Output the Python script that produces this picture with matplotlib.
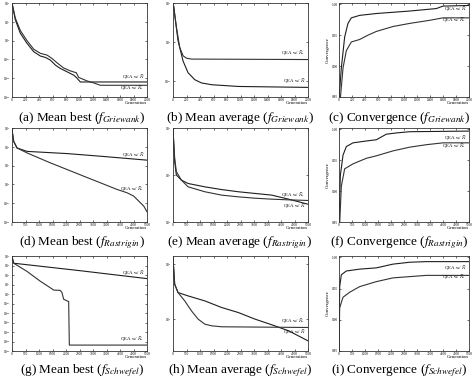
import numpy as np
import matplotlib
matplotlib.use("Agg")
import matplotlib.pyplot as plt
from matplotlib.ticker import LogLocator, FixedLocator, NullFormatter

plt.rcParams['mathtext.fontset'] = 'stix'
plt.rcParams['font.family'] = ['Liberation Serif', 'DejaVu Serif']

# ---- data (generation, value) ----
# (a) mean best, Griewank
a_gen_r = [0, 49, 123, 222, 321, 420, 494, 568, 642, 716, 815, 914, 953, 1012, 2000]
a_val_r = [100, 12.8, 2.47, 0.72, 0.258, 0.151, 0.128, 0.092, 0.050, 0.033, 0.022, 0.0145, 0.011, 0.0063, 0.0063]
a_gen_rs = [0, 49, 123, 222, 321, 420, 519, 593, 667, 765, 864, 953, 988, 1111, 1210, 1309, 2000]
a_val_rs = [100, 15.8, 3.46, 1.0, 0.35, 0.21, 0.17, 0.112, 0.066, 0.035, 0.0245, 0.0195, 0.011, 0.0072, 0.0056, 0.0042, 0.0042]

# (b) mean average, Griewank
b_gen_r = [10, 74, 149, 223, 323, 422, 571, 968, 2000]
b_val_r = [8.2, 1.1, 0.33, 0.166, 0.11, 0.091, 0.082, 0.074, 0.070]
b_gen_rs = [10, 50, 99, 149, 199, 273, 2000]
b_val_rs = [8.2, 2.45, 0.74, 0.45, 0.39, 0.37, 0.36]

# (c) convergence, Griewank
c_gen_r = [0, 36, 87, 138, 190, 318, 574, 1087, 1497, 1600, 2000]
c_val_r = [0.847, 0.897, 0.947, 0.969, 0.978, 0.982, 0.985, 0.989, 0.993, 0.997, 0.998]
c_gen_rs = [20, 62, 113, 190, 318, 446, 574, 831, 1087, 1395, 1600, 2000]
c_val_rs = [0.847, 0.897, 0.925, 0.939, 0.943, 0.950, 0.956, 0.964, 0.969, 0.974, 0.978, 0.978]

# (d) mean best, Rastrigin
d_gen_r = [0, 62, 185, 556, 2037, 3272, 5000]
d_val_r = [820, 195, 87, 57, 43.6, 31.6, 19.5]
d_gen_rs = [0, 62, 185, 556, 1420, 2037, 2654, 3272, 3889, 4259, 4506, 4753, 4877, 5000]
d_val_rs = [820, 195, 87, 47.3, 14.0, 6.2, 2.74, 1.22, 0.54, 0.36, 0.24, 0.106, 0.071, 0.035]

# (e) mean average, Rastrigin
e_gen_r = [0, 62, 124, 310, 558, 1179, 1799, 2419, 3040, 3660, 4280, 5000]
e_val_r = [92, 19.3, 10, 7.8, 6.6, 5.6, 4.9, 4.4, 4.05, 3.73, 3.06, 2.39]
e_gen_rs = [0, 62, 124, 310, 558, 1179, 1799, 2419, 3040, 3660, 4280, 5000]
e_val_rs = [92, 22.8, 11.8, 7.8, 5.6, 4.4, 3.73, 3.43, 3.21, 3.06, 2.96, 2.87]

# (f) convergence, Rastrigin
f_gen_r = [0, 51, 154, 282, 538, 1051, 1436, 1821, 2205, 2718, 5000]
f_val_r = [0.847, 0.925, 0.958, 0.972, 0.978, 0.981, 0.983, 0.992, 0.994, 0.996, 0.997]
f_gen_rs = [26, 90, 218, 538, 1051, 1436, 2077, 2718, 3359, 4000, 5000]
f_val_rs = [0.847, 0.908, 0.936, 0.944, 0.953, 0.957, 0.965, 0.971, 0.975, 0.978, 0.978]

# (g) mean best, Schwefel
g_gen_r = [0, 62, 2531, 5000]
g_val_r = [8500, 1740, 282, 41.7]
g_gen_rs = [0, 62, 556, 1049, 1420, 1543, 1790, 1852, 1914, 2037, 2099, 2123, 5000]
g_val_rs = [8500, 1740, 240, 21.9, 4.5, 2.6, 2.4, 1.38, 0.28, 0.19, 0.16, 4.2e-6, 4.2e-6]

# (h) mean average, Schwefel
h_gen_r = [0, 62, 186, 558, 1179, 1799, 2419, 3040, 3660, 4280, 5000]
h_val_r = [13200, 4330, 3050, 2650, 2150, 1630, 1320, 1000, 789, 614, 403]
h_gen_rs = [0, 62, 186, 434, 682, 931, 1179, 1427, 1799, 5000]
h_val_rs = [13200, 4330, 3050, 2150, 1420, 1000, 811, 757, 726, 705]

# (i) convergence, Schwefel
i_gen_r = [0, 26, 90, 282, 795, 1436, 2077, 2718, 3359, 5000]
i_val_r = [0.847, 0.953, 0.972, 0.978, 0.981, 0.983, 0.989, 0.992, 0.993, 0.993]
i_gen_rs = [0, 26, 154, 410, 795, 1436, 2077, 2718, 3359, 5000]
i_val_rs = [0.847, 0.919, 0.936, 0.944, 0.953, 0.961, 0.967, 0.969, 0.971, 0.971]

captions = ["(a) Mean best ($f_{Griewank}$)", "(b) Mean average ($f_{Griewank}$)",
            "(c) Convergence ($f_{Griewank}$)", "(d) Mean best ($f_{Rastrigin}$)",
            "(e) Mean average ($f_{Rastrigin}$)", "(f) Convergence ($f_{Rastrigin}$)",
            "(g) Mean best ($f_{Schwefel}$)", "(h) Mean average ($f_{Schwefel}$)",
            "(i) Convergence ($f_{Schwefel}$)"]

lab_r = r"QEA w/ $\mathbb{R}$"
lab_rs = r"QEA w/ $\mathbb{R}_s$"

W, H = 474, 378
fig = plt.figure(figsize=(W / 100, H / 100), dpi=100)

col_x = [(12, 147), (173, 308), (339, 469)]
row_y = [(3, 97), (128, 222), (256, 351)]
cap_x = [82, 240, 399]
cap_y = [118, 243, 371]

# panel setup: (gen_r, val_r, gen_rs, val_rs, xmax, ylim, log, label y pos r, rs)
panels = [
    (a_gen_r, a_val_r, a_gen_rs, a_val_rs, 2000, (1e-3, 1e2), True, 0.21, 0.08),
    (b_gen_r, b_val_r, b_gen_rs, b_val_rs, 2000, (10**-1.4, 10**1), True, 0.16, 0.45),
    (c_gen_r, c_val_r, c_gen_rs, c_val_rs, 2000, (0.85, 1.002), False, 0.93, 0.80),
    (d_gen_r, d_val_r, d_gen_rs, d_val_rs, 5000, (1e-2, 1e3), True, 0.71, 0.34),
    (e_gen_r, e_val_r, e_gen_rs, e_val_rs, 5000, (1, 100), True, 0.16, 0.275),
    (f_gen_r, f_val_r, f_gen_rs, f_val_rs, 5000, (0.85, 1.002), False, 0.89, 0.79),
    (g_gen_r, g_val_r, g_gen_rs, g_val_rs, 5000, (1e-6, 1e4), True, 0.82, 0.11),
    (h_gen_r, h_val_r, h_gen_rs, h_val_rs, 5000, (10**2.42, 10**4.15), True, 0.19, 0.305),
    (i_gen_r, i_val_r, i_gen_rs, i_val_rs, 5000, (0.85, 1.002), False, 0.87, 0.76),
]

for k, p in enumerate(panels):
    gr, vr, grs, vrs, xmax, ylim, logy, ly_r, ly_rs = p
    r, c = divmod(k, 3)
    x0, x1 = col_x[c]
    y0, y1 = row_y[r]
    ax = fig.add_axes([x0 / W, 1 - y1 / H, (x1 - x0) / W, (y1 - y0) / H])
    ax.plot(gr, vr, color='#1e1e1e', lw=0.8)
    ax.plot(grs, vrs, color='#333333', lw=0.8)
    if logy:
        ax.set_yscale('log')
        ax.yaxis.set_major_locator(LogLocator(base=10, numticks=15))
        ax.yaxis.set_minor_formatter(NullFormatter())
        ax.yaxis.set_minor_locator(LogLocator(base=10, subs=[], numticks=15))
    else:
        ax.yaxis.set_major_locator(FixedLocator([0.85, 0.9, 0.95, 1.0]))
        ax.set_ylabel("Convergence", fontsize=3.5, labelpad=1)
    ax.set_xlim(0, xmax)
    ax.set_ylim(*ylim)
    step = 200 if xmax == 2000 else 500
    ax.set_xticks(np.arange(0, xmax + 1, step))
    ax.tick_params(which='both', direction='in', top=True, right=True,
                   labelsize=2.5, length=1.5, width=0.4, pad=1)
    for s in ax.spines.values():
        s.set_linewidth(0.6)
        s.set_color('#333333')
    ax.text(1.0, -0.045, "Generation", transform=ax.transAxes, ha='right',
            va='top', fontsize=3.5)
    ax.text(0.98, ly_r, lab_r, transform=ax.transAxes, ha='right', fontsize=3.5)
    ax.text(0.98, ly_rs, lab_rs, transform=ax.transAxes, ha='right', fontsize=3.5)
    fig.text(cap_x[c] / W, 1 - cap_y[r] / H, captions[k], ha='center',
             va='center', fontsize=9.5)

fig.savefig("out.png", dpi=100)
